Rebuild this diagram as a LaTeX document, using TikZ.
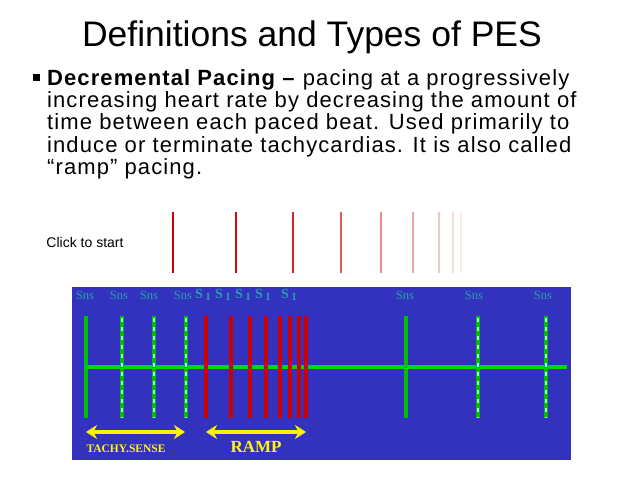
\documentclass[tikz,border=0pt]{standalone}
\usepackage{fontspec}
\usetikzlibrary{arrows.meta}
\setmainfont{Liberation Sans}
\newfontfamily\tms{Liberation Serif}
\newfontfamily\spaced[LetterSpace=5]{Liberation Sans}
\begin{document}
\begin{tikzpicture}[x=1pt,y=-1pt,
  lbl/.style={font=\tms\fontsize{12.5}{12.5}\selectfont,text={rgb,255:red,40;green,160;blue,170},inner sep=0pt},
  gline/.style={draw=green!75!black,line width=3.2pt},
  gdash/.style={draw=cyan!30!white,line width=1.3pt,dash pattern=on 4pt off 5pt},
  rline/.style={draw=red!80!black,line width=3.2pt},
  arr/.style={draw=yellow,line width=3.5pt,<->,>={Stealth[length=11pt,width=14pt]}}]
\useasboundingbox (0,0) rectangle (638,479);
\node (title) at (312,37) {\fontsize{35.5}{35.5}\selectfont Definitions and Types of PES};
\node (body) [anchor=north west,align=left,inner sep=0pt,font=\spaced\fontsize{22}{22.3}\selectfont] at (47,69)
 {\textbf{Decremental Pacing \textendash} pacing at a progressively\\ increasing heart rate by decreasing the amount of\\ time between each paced beat. Used primarily to\\ induce or terminate tachycardias. It is also called\\ “ramp” pacing.};
\fill (33,74) rectangle (40,81);
\node (click) at (85,242) {\fontsize{14}{14}\selectfont Click to start};
\foreach \x/\o in {173/100,236/95,293/85,341/65,381/45,413/35,439/22,453/15,461/8}
  \draw[draw=red!80!black,opacity=\o/100,line width=2.3pt] (\x,212) -- (\x,273);
\fill[fill={rgb,255:red,50;green,50;blue,190}] (72,287) rectangle (571,460);
\foreach \x/\t in {85/Sns,119/Sns,149/Sns,183/Sns,405/Sns,474/Sns,543/Sns}
  \node[lbl] at (\x,295) {\t};
\foreach \x in {203,223,243,263,289}
  \node[lbl,font=\tms\bfseries\fontsize{14}{14}\selectfont] at (\x,295) {S\,\raisebox{-2pt}{\fontsize{11}{11}\selectfont 1}};
\draw[draw=green!85!black,line width=3.5pt] (86,367) -- (567,367);
\foreach \x in {86,122,154,186,406,478,546} \draw[gline] (\x,316) -- (\x,418);
\foreach \x in {122,154,186,478,546} \draw[gdash] (\x,318) -- (\x,418);
\foreach \x in {206,231,250,266,280,290,299,306} \draw[rline] (\x,316) -- (\x,418);
\coordinate (a1) at (86,432); \coordinate (a2) at (185,432);
\coordinate (b1) at (206,432); \coordinate (b2) at (306,432);
\draw[arr] (a1) -- (a2);
\draw[arr] (b1) -- (b2);
\node (ts) at (126,449) {\tms\bfseries\fontsize{11.5}{11.5}\selectfont\color{yellow!90!white}TACHY.SENSE};
\node (ramp) at (256,447) {\tms\bfseries\fontsize{17}{17}\selectfont\color{yellow!90!white}RAMP};
\end{tikzpicture}
\end{document}
